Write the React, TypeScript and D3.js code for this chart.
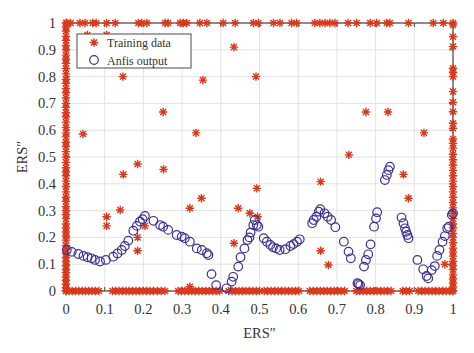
import React from 'react'
import * as d3 from 'd3'

// tick values shared by both axes
const tickValues = [0, 0.1, 0.2, 0.3, 0.4, 0.5, 0.6, 0.7, 0.8, 0.9, 1]

// training data stars sitting on the frame
const bottomX = [0, 0.008, 0.016, 0.025, 0.033, 0.042, 0.05, 0.059, 0.067, 0.076, 0.085, 0.12, 0.128, 0.137, 0.146, 0.155, 0.163, 0.172, 0.181, 0.19, 0.199, 0.208, 0.217, 0.226, 0.236, 0.246, 0.256, 0.29, 0.298, 0.307, 0.316, 0.325, 0.334, 0.343, 0.352, 0.361, 0.37, 0.379, 0.388, 0.397, 0.42, 0.429, 0.438, 0.447, 0.456, 0.465, 0.474, 0.483, 0.492, 0.5, 0.512, 0.521, 0.53, 0.539, 0.548, 0.557, 0.566, 0.575, 0.584, 0.593, 0.602, 0.63, 0.639, 0.648, 0.657, 0.666, 0.675, 0.684, 0.693, 0.702, 0.711, 0.72, 0.75, 0.759, 0.768, 0.777, 0.786, 0.795, 0.804, 0.813, 0.822, 0.831, 0.84, 0.87, 0.879, 0.888, 0.91, 0.919, 0.928, 0.937, 0.946, 0.955, 0.964, 0.973, 0.982, 0.991, 1]
const topX = [0.002, 0.012, 0.036, 0.049, 0.069, 0.078, 0.105, 0.127, 0.187, 0.196, 0.209, 0.256, 0.264, 0.295, 0.303, 0.312, 0.346, 0.364, 0.406, 0.437, 0.484, 0.497, 0.536, 0.553, 0.583, 0.596, 0.643, 0.656, 0.669, 0.682, 0.695, 0.729, 0.751, 0.786, 0.803, 0.829, 0.837, 0.885, 0.949, 0.975, 1]
const leftY = [0, 0.012, 0.025, 0.04, 0.052, 0.068, 0.08, 0.095, 0.11, 0.125, 0.14, 0.155, 0.17, 0.19, 0.205, 0.22, 0.235, 0.25, 0.27, 0.285, 0.3, 0.315, 0.335, 0.35, 0.37, 0.39, 0.41, 0.43, 0.445, 0.46, 0.48, 0.5, 0.52, 0.54, 0.555, 0.575, 0.59, 0.61, 0.63, 0.65, 0.665, 0.685, 0.7, 0.72, 0.74, 0.755, 0.775, 0.79, 0.81, 0.83, 0.85, 0.865, 0.88, 0.9, 0.915, 0.935, 0.95, 0.97, 0.985, 1]
const rightY = [0, 0.015, 0.03, 0.045, 0.06, 0.08, 0.095, 0.11, 0.13, 0.145, 0.16, 0.18, 0.2, 0.215, 0.235, 0.25, 0.27, 0.29, 0.31, 0.33, 0.35, 0.37, 0.39, 0.41, 0.43, 0.45, 0.47, 0.49, 0.51, 0.533, 0.551, 0.567, 0.607, 0.626, 0.669, 0.704, 0.744, 0.8, 0.816, 0.831, 0.912, 0.949, 0.993]

// training data stars inside the box
const innerX = [0.044, 0.055, 0.105, 0.147, 0.251, 0.354, 0.336, 0.434, 0.491, 0.775, 0.832, 0.925, 0.731, 0.185, 0.148, 0.252, 0.105, 0.105, 0.14, 0.204, 0.185, 0.185, 0.32, 0.32, 0.35, 0.493, 0.445, 0.475, 0.495, 0.434, 0.658, 0.658, 0.678, 0.872, 0.885, 0.979]
const innerY = [0.586, 0.955, 0.955, 0.8, 0.668, 0.787, 0.59, 0.91, 0.8, 0.668, 0.668, 0.59, 0.508, 0.474, 0.435, 0.454, 0.277, 0.243, 0.302, 0.243, 0.2, 0.15, 0.309, 0.016, 0.346, 0.383, 0.309, 0.29, 0.277, 0.178, 0.408, 0.15, 0.097, 0.435, 0.346, 0.1]

// anfis output circles
const anfisX = [0.002, 0.015, 0.032, 0.045, 0.056, 0.066, 0.075, 0.088, 0.103, 0.122, 0.133, 0.144, 0.152, 0.161, 0.174, 0.183, 0.191, 0.198, 0.204, 0.226, 0.243, 0.251, 0.264, 0.286, 0.299, 0.307, 0.32, 0.338, 0.351, 0.364, 0.368, 0.376, 0.388, 0.415, 0.428, 0.432, 0.445, 0.451, 0.461, 0.469, 0.474, 0.477, 0.484, 0.488, 0.493, 0.497, 0.511, 0.519, 0.528, 0.535, 0.543, 0.552, 0.567, 0.58, 0.588, 0.597, 0.604, 0.636, 0.64, 0.647, 0.653, 0.657, 0.668, 0.676, 0.685, 0.696, 0.718, 0.73, 0.736, 0.753, 0.756, 0.76, 0.77, 0.775, 0.781, 0.787, 0.796, 0.801, 0.804, 0.824, 0.829, 0.833, 0.837, 0.867, 0.872, 0.876, 0.879, 0.882, 0.885, 0.908, 0.923, 0.932, 0.936, 0.945, 0.953, 0.959, 0.965, 0.973, 0.979, 0.985, 0.989, 0.997, 1]
const anfisY = [0.153, 0.146, 0.138, 0.131, 0.126, 0.122, 0.116, 0.11, 0.116, 0.128, 0.14, 0.153, 0.168, 0.188, 0.225, 0.243, 0.259, 0.268, 0.28, 0.262, 0.246, 0.24, 0.228, 0.209, 0.203, 0.197, 0.184, 0.159, 0.153, 0.141, 0.134, 0.063, 0.022, 0.01, 0.035, 0.053, 0.091, 0.126, 0.159, 0.19, 0.2, 0.218, 0.246, 0.265, 0.246, 0.24, 0.197, 0.184, 0.172, 0.163, 0.159, 0.153, 0.156, 0.168, 0.175, 0.184, 0.193, 0.253, 0.265, 0.277, 0.296, 0.305, 0.29, 0.277, 0.265, 0.238, 0.184, 0.147, 0.122, 0.029, 0.026, 0.022, 0.091, 0.116, 0.137, 0.174, 0.24, 0.271, 0.294, 0.414, 0.433, 0.451, 0.464, 0.274, 0.253, 0.234, 0.221, 0.209, 0.197, 0.116, 0.081, 0.056, 0.047, 0.078, 0.093, 0.131, 0.153, 0.184, 0.205, 0.234, 0.24, 0.284, 0.29]

const width = 474
const height = 353
const margin = { left: 66, right: 21, top: 23, bottom: 62 }
const starColor = '#d8391d'
const circleColor = '#3b3194'
const font = "'Liberation Serif'"

const starPath = (r: number) => {
  const a = r * 0.72
  return `M${-r},0L${r},0M0,${-r}L0,${r}M${-a},${-a}L${a},${a}M${-a},${a}L${a},${-a}`
}

export default function App() {
  const x = d3.scaleLinear().domain([0, 1]).range([margin.left, width - margin.right])
  const y = d3.scaleLinear().domain([0, 1]).range([height - margin.bottom, margin.top])

  const training: [number, number][] = [
    ...bottomX.map(v => [v, 0] as [number, number]),
    ...topX.map(v => [v, 1] as [number, number]),
    ...leftY.map(v => [0, v] as [number, number]),
    ...rightY.map(v => [1, v] as [number, number]),
    ...innerX.map((v, i) => [v, innerY[i]] as [number, number])
  ]
  const anfis = anfisX.map((v, i) => [v, anfisY[i]])
  const star = starPath(4.2)
  const x0 = x(0), x1 = x(1), y0 = y(0), y1 = y(1)
  const txt = { fontFamily: font, fontSize: 14.5, fill: '#333' }

  return (
    <div style={{ position: 'absolute', left: 0, top: 0 }}>
      <svg width={width} height={height} style={{ display: 'block', background: '#fff' }}>
        {/* grid */}
        {tickValues.map(t => (
          <g key={'g' + t}>
            <line x1={x(t)} x2={x(t)} y1={y0} y2={y1} stroke="#e3e3e6" strokeWidth={1} />
            <line x1={x0} x2={x1} y1={y(t)} y2={y(t)} stroke="#e3e3e6" strokeWidth={1} />
          </g>
        ))}
        <rect x={x0} y={y1} width={x1 - x0} height={y0 - y1} fill="none" stroke="#4a4a4a" strokeWidth={1.2} />
        {/* inward ticks */}
        {tickValues.map(t => (
          <g key={'t' + t} stroke="#4a4a4a" strokeWidth={1}>
            <line x1={x(t)} x2={x(t)} y1={y0} y2={y0 - 4} />
            <line x1={x(t)} x2={x(t)} y1={y1} y2={y1 + 4} />
            <line x1={x0} x2={x0 + 4} y1={y(t)} y2={y(t)} />
            <line x1={x1} x2={x1 - 4} y1={y(t)} y2={y(t)} />
          </g>
        ))}
        {/* tick labels */}
        {tickValues.map(t => (
          <text key={'xl' + t} x={x(t)} y={y0 + 23} textAnchor="middle" style={txt}>
            {d3.format('~g')(t)}
          </text>
        ))}
        {tickValues.map(t => (
          <text key={'yl' + t} x={x0 - 10} y={y(t) + 5} textAnchor="end" style={txt}>
            {d3.format('~g')(t)}
          </text>
        ))}
        <text x={(x0 + x1) / 2} y={338} textAnchor="middle" style={txt}>ERS″</text>
        <text transform={`translate(27,${(y0 + y1) / 2}) rotate(-90)`} textAnchor="middle" style={txt}>ERS″</text>

        {/* training data */}
        {training.map((d, i) => (
          <path key={'s' + i} d={star} transform={`translate(${x(d[0])},${y(d[1])})`} stroke={starColor} strokeWidth={1.4} fill="none" />
        ))}
        {/* anfis output */}
        {anfis.map((d, i) => (
          <circle key={'c' + i} cx={x(d[0])} cy={y(d[1])} r={4.3} fill="none" stroke={circleColor} strokeWidth={1.2} />
        ))}

        {/* legend */}
        <g>
          <rect x={77} y={34} width={114} height={34} fill="#fff" stroke="#4a4a4a" strokeWidth={1} />
          <path d={star} transform="translate(94,42.5)" stroke={starColor} strokeWidth={1.4} fill="none" />
          <text x={107} y={46.5} style={{ ...txt, fontSize: 12 }}>Training data</text>
          <circle cx={94} cy={60} r={4.3} fill="none" stroke={circleColor} strokeWidth={1.2} />
          <text x={107} y={64.5} style={{ ...txt, fontSize: 12 }}>Anfis output</text>
        </g>
      </svg>
    </div>
  )
}
